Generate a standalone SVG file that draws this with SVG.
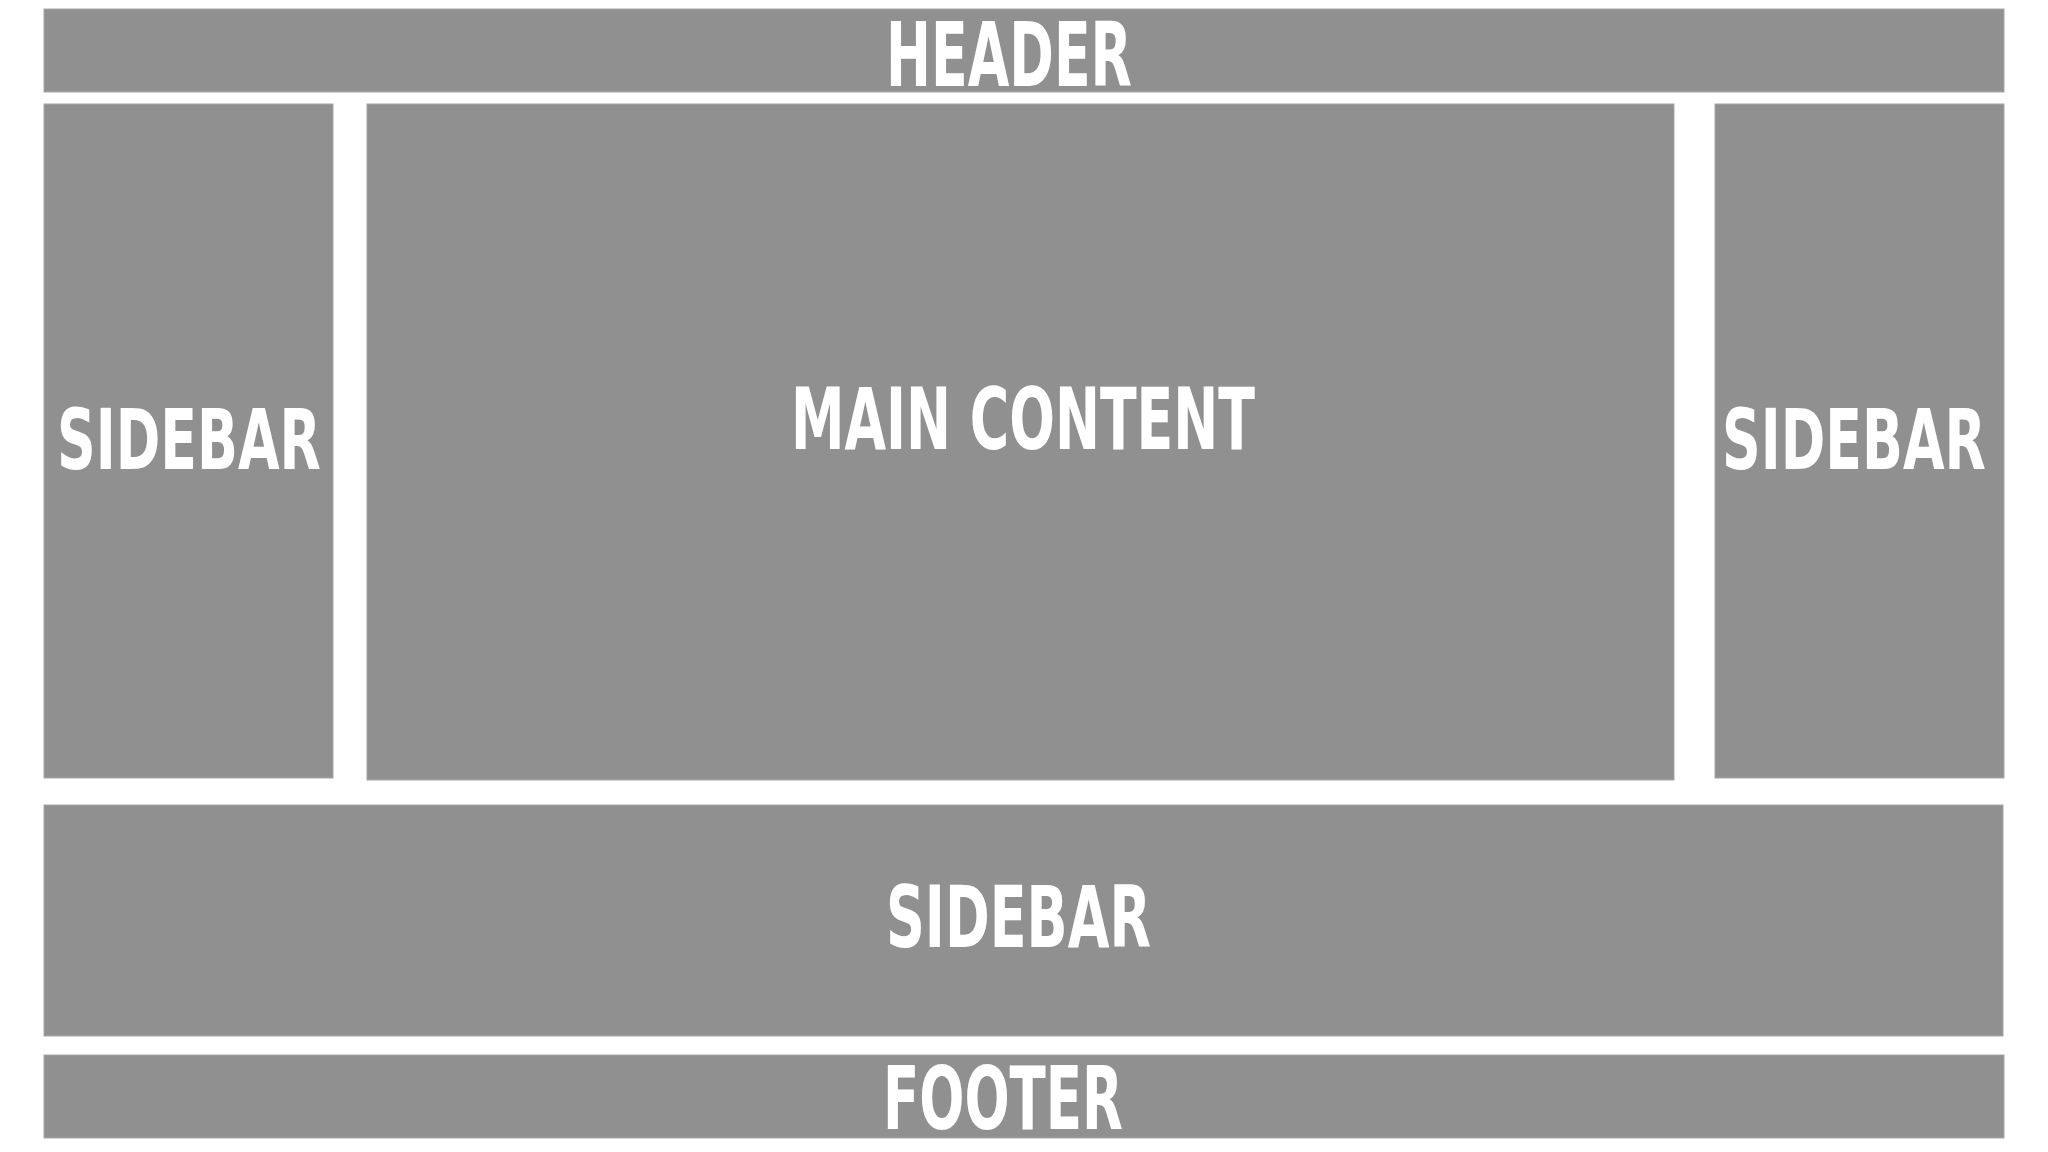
<svg xmlns="http://www.w3.org/2000/svg" width="2048" height="1152" viewBox="0 0 2048 1152">
<style>
.box{fill:#909090;stroke:#a6a6a6;stroke-width:1}
.lbl{fill:#ffffff;font-family:"DejaVu Sans Condensed","DejaVu Sans","Liberation Sans",sans-serif;font-weight:bold;font-stretch:condensed}
</style>
<rect width="2048" height="1152" fill="#ffffff"/>
<g id="header">
<rect class="box" x="44" y="9" width="1960" height="83"/>
<text class="lbl" x="886" y="86" font-size="89" textLength="246" lengthAdjust="spacingAndGlyphs">HEADER</text>
</g>
<g id="sidebar-left">
<rect class="box" x="44" y="104" width="289" height="674"/>
<text class="lbl" x="57" y="469" font-size="84" textLength="264" lengthAdjust="spacingAndGlyphs">SIDEBAR</text>
</g>
<g id="main-content">
<rect class="box" x="367" y="104" width="1307" height="676"/>
<text class="lbl" x="791" y="449" font-size="85" textLength="464" lengthAdjust="spacingAndGlyphs">MAIN CONTENT</text>
</g>
<g id="sidebar-right">
<rect class="box" x="1715" y="104" width="289" height="674"/>
<text class="lbl" x="1722" y="469" font-size="84" textLength="264" lengthAdjust="spacingAndGlyphs">SIDEBAR</text>
</g>
<g id="sidebar-bottom">
<rect class="box" x="44" y="805" width="1959" height="231"/>
<text class="lbl" x="886" y="947" font-size="85" textLength="265" lengthAdjust="spacingAndGlyphs">SIDEBAR</text>
</g>
<g id="footer">
<rect class="box" x="44" y="1055" width="1960" height="83"/>
<text class="lbl" x="883" y="1129" font-size="88" textLength="240" lengthAdjust="spacingAndGlyphs">FOOTER</text>
</g>
<g id="connectors"/>
</svg>
